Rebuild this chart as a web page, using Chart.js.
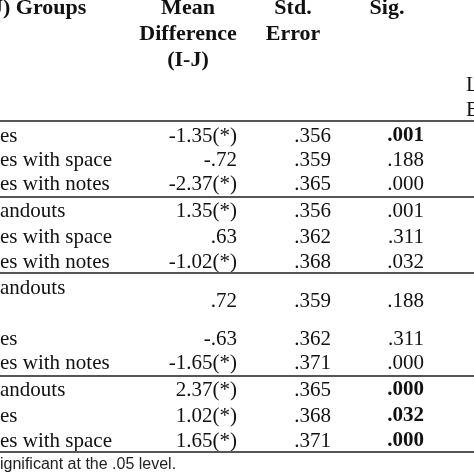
<!DOCTYPE html>
<html>
<head>
<meta charset="utf-8">
<script src="https://cdn.jsdelivr.net/npm/chart.js@4"></script>
<style>
  html, body { margin: 0; padding: 0; background: #fff; }
  #wrap { width: 474px; height: 474px; }
</style>
</head>
<body>
<div id="wrap"><canvas id="tbl"></canvas></div>
<script>
// Table data (cropped view of a post-hoc comparison table)
const labels = ['Notes', 'Notes with space', 'Notes with notes',
                'Handouts', 'Notes with space', 'Notes with notes',
                'Handouts', 'Notes', 'Notes with notes',
                'Handouts', 'Notes', 'Notes with space'];
const meanDiff = ['-1.35(*)', '-.72', '-2.37(*)', '1.35(*)', '.63', '-1.02(*)',
                  '.72', '-.63', '-1.65(*)', '2.37(*)', '1.02(*)', '1.65(*)'];
const stdErr = ['.356', '.359', '.365', '.356', '.362', '.368',
                '.359', '.362', '.371', '.365', '.368', '.371'];
const sig = ['.001', '.188', '.000', '.001', '.311', '.032',
             '.188', '.311', '.000', '.000', '.032', '.000'];
const sigBold = [true, false, false, false, false, false,
                 false, false, false, true, true, true];
const footnote = '* The mean difference is significant at the .05 level.';

// row y positions (label, values) and separator lines
const rowY = [136, 160, 184, 211, 237, 262, 288, 339, 363, 390, 416, 441];
const valY = [136, 160, 184, 211, 237, 262, 301, 339, 363, 390, 416, 441];
const lineY = [121, 197, 273, 376, 452];

const tablePlugin = {
  id: 'table',
  afterDraw(chart) {
    const c = chart.ctx;
    c.save();
    c.fillStyle = '#fff';
    c.fillRect(0, 0, chart.width, chart.height);
    c.fillStyle = '#111';
    c.textBaseline = 'middle';

    // header
    c.font = 'bold 22px "Liberation Serif"';
    c.textAlign = 'left';
    c.fillText('(J) Groups', -c.measureText('(J').width + 3, 8);
    c.textAlign = 'center';
    c.fillText('Mean', 188, 8);
    c.fillText('Difference', 188, 34);
    c.fillText('(I-J)', 188, 60);
    c.fillText('Std.', 293, 8);
    c.fillText('Error', 293, 34);
    c.fillText('Sig.', 387, 8);
    c.font = '21px "Liberation Serif"';
    c.textAlign = 'left';
    c.fillText('Lower', 466, 85);
    c.fillText('Bound', 466, 110);

    // rows
    labels.forEach((lab, i) => {
      c.font = '21px "Liberation Serif"';
      c.textAlign = 'left';
      const hidden = lab.startsWith('H') ? 1 : 3;
      c.fillText(lab, -c.measureText(lab.slice(0, hidden)).width, rowY[i]);
      c.textAlign = 'right';
      c.fillText(meanDiff[i], 237, valY[i]);
      c.fillText(stdErr[i], 331, valY[i]);
      c.font = (sigBold[i] ? 'bold ' : '') + '21px "Liberation Serif"';
      c.fillText(sig[i], 424, valY[i]);
    });

    // separators
    c.strokeStyle = '#555';
    c.lineWidth = 2;
    lineY.forEach(y => {
      c.beginPath();
      c.moveTo(0, y);
      c.lineTo(474, y);
      c.stroke();
    });

    // footnote
    c.font = '16px "Liberation Sans"';
    c.textAlign = 'left';
    c.fillStyle = '#222';
    c.fillText(footnote, -c.measureText('* The mean difference is s').width, 465);
    c.restore();
  }
};

new Chart(document.getElementById('tbl').getContext('2d'), {
  type: 'bar',
  data: { labels: labels, datasets: [{ data: [], backgroundColor: '#fff' }] },
  options: {
    responsive: true,
    maintainAspectRatio: false,
    animation: false,
    layout: { padding: 0 },
    plugins: { legend: { display: false }, tooltip: { enabled: false } },
    scales: { x: { display: false }, y: { display: false } }
  },
  plugins: [tablePlugin]
});
</script>
</body>
</html>
